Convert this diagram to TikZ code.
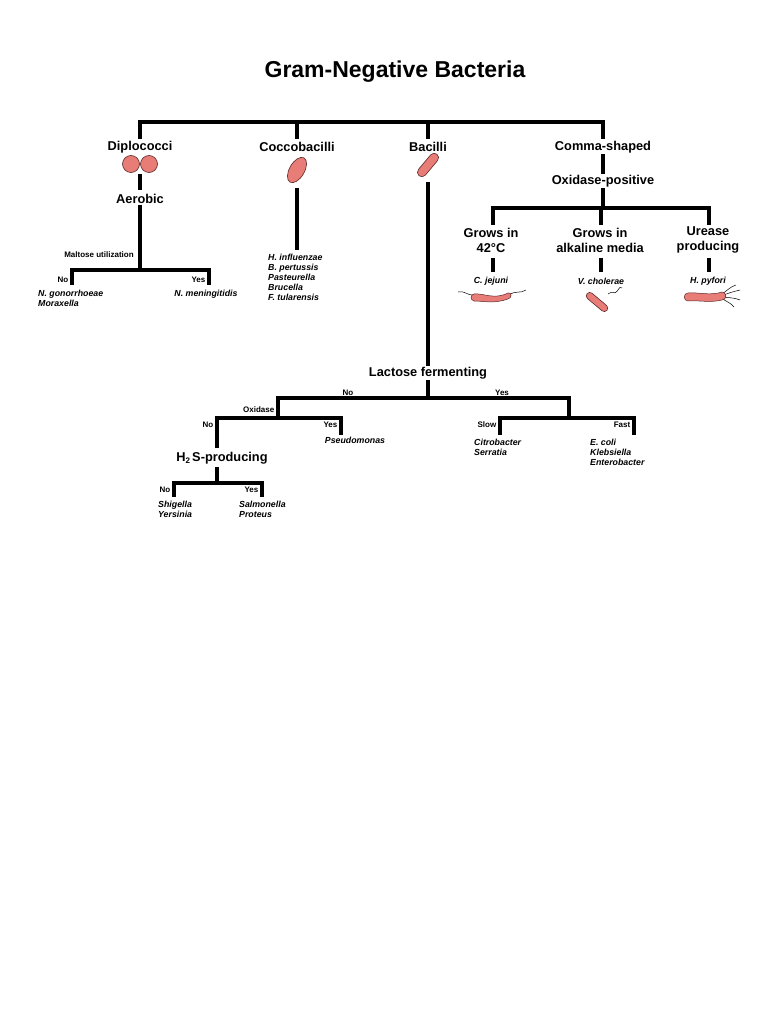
\documentclass[tikz,border=0pt]{standalone}
\usepackage{fontspec}
\setmainfont{Liberation Sans}
\begin{document}
\begin{tikzpicture}[x=1pt,y=-1pt,
  br/.style={line width=3.8pt,line cap=butt},
  lab/.style={font=\fontsize{12.8}{14}\selectfont\bfseries,align=center,inner sep=1pt},
  sm/.style={font=\fontsize{8}{9}\selectfont\bfseries,inner sep=0.5pt},
  sp/.style={font=\fontsize{8.8}{10}\selectfont\bfseries\itshape,align=left,inner sep=0pt},
  cell/.style={fill={rgb,255:red,232;green,124;blue,118},draw={rgb,255:red,90;green,40;blue,40},line width=0.6pt},
  fl/.style={draw=black,line width=0.5pt}]
\useasboundingbox (0,0) rectangle (768,1024);
\node[font=\fontsize{23}{26}\selectfont\bfseries] (title) at (395,72) {Gram-Negative Bacteria};
% top level
\coordinate (t1) at (140,122); \coordinate (t4) at (603,122);
\coordinate (t2) at (297,122); \coordinate (t3) at (428,122);
\node[lab] (dip) at (140,147) {Diplococci};
\node[lab] (coc) at (297,147) {Coccobacilli};
\node[lab] (bac) at (428,147) {Bacilli};
\node[lab] (com) at (603,147) {Comma-shaped};
\draw[br] (140,139) -- (t1) -- (t4) -- (603,139);
\draw[br] (t2) -- (297,139); \draw[br] (t3) -- (428,139);
% diplococci
\draw[cell] (131,164) circle (8.5); \draw[cell] (149,164) circle (8.5);
\node[lab] (aer) at (140,199) {Aerobic};
\draw[br] (140,174) -- (140,190);
\coordinate (dj) at (140,270);
\draw[br] (aer.south) -- (dj);
\node[sm] (malt) at (99,255) {Maltose utilization};
\draw[br] (72,285) -- (72,270) -- (209,270) -- (209,285);
\node[sm,anchor=east] (dno) at (69,280) {No};
\node[sm,anchor=east] (dyes) at (206,280) {Yes};
\node[sp,anchor=north west] (ng) at (38,290) {N. gonorrhoeae\\Moraxella};
\node[sp,anchor=north] (nm) at (206,290) {N. meningitidis};
% coccobacilli
\draw[cell,rotate around={60:(297,170)}] (297,170) ellipse (14 and 7.5);
\draw[br] (297,188) -- (297,250);
\node[sp,anchor=north west] (cl) at (268,254) {H. influenzae\\B. pertussis\\Pasteurella\\Brucella\\F. tularensis};
% bacilli
\draw[cell,rounded corners=4.5pt,rotate around={50:(428,165)}] (414,160.5) rectangle (442,169.5);
\node[lab] (lac) at (428,373) {Lactose fermenting};
\draw[br] (428,182) -- (lac.north);
\coordinate (lj) at (428,398);
\draw[br] (lac.south) -- (lj);
\draw[br] (278,418) -- (278,398) -- (569,398) -- (569,418);
\node[sm] (lno) at (348,393) {No};
\node[sm] (lyes) at (502,393) {Yes};
\node[sm,anchor=east] (ox) at (275,410) {Oxidase};
\node[lab] (h2s) at (222,458) {H\raisebox{-0.35ex}{\fontsize{8}{9}\selectfont 2}\,S-producing};
\draw[br] (217,448) -- (217,418) -- (341,418) -- (341,435);
\node[sm,anchor=east] (ono) at (214,425) {No};
\node[sm,anchor=east] (oyes) at (338,425) {Yes};
\node[sp,anchor=north] (pse) at (355,437) {Pseudomonas};
\draw[br] (217,467) -- (217,483);
\draw[br] (174,497) -- (174,483) -- (262,483) -- (262,497);
\node[sm,anchor=east] (hno) at (171,490) {No};
\node[sm,anchor=east] (hyes) at (259,490) {Yes};
\node[sp,anchor=north west] (shi) at (158,501) {Shigella\\Yersinia};
\node[sp,anchor=north west] (sal) at (239,501) {Salmonella\\Proteus};
\draw[br] (500,435) -- (500,418) -- (634,418) -- (634,435);
\node[sm,anchor=east] (slow) at (497,425) {Slow};
\node[sm,anchor=east] (fast) at (631,425) {Fast};
\node[sp,anchor=north west] (cit) at (474,439) {Citrobacter\\Serratia};
\node[sp,anchor=north west] (eco) at (590,439) {E. coli\\Klebsiella\\Enterobacter};
% comma-shaped
\node[lab] (oxp) at (603,181) {Oxidase-positive};
\draw[br] (com.south) -- (oxp.north);
\draw[br] (oxp.south) -- (603,208);
\draw[br] (493,225) -- (493,208) -- (709,208) -- (709,225);
\draw[br] (601,208) -- (601,225);
\node[lab,font=\fontsize{12.8}{15}\selectfont\bfseries] (g42) at (491,240) {Grows in\\42°C};
\node[lab,font=\fontsize{12.8}{15}\selectfont\bfseries] (alk) at (600,240) {Grows in\\alkaline media};
\node[lab,font=\fontsize{12.8}{15}\selectfont\bfseries] (ure) at (708,240) {Urease\\producing};
\draw[br] (493,258) -- (493,272); \draw[br] (601,258) -- (601,272); \draw[br] (709,258) -- (709,272);
\node[sp] (cj) at (491,281) {C. jejuni};
\node[sp] (vc) at (601,281) {V. cholerae};
\node[sp] (hp) at (708,281) {H. pyfori};
% C. jejuni
\draw[fl] (458,292) .. controls (464,290) and (468,296) .. (474,295);
\draw[fl] (509,295) .. controls (516,290) and (520,294) .. (526,290);
\draw[cell,line width=0.5pt] (474,294) .. controls (484,293) and (494,300) .. (508,293)
  .. controls (512,292) and (512,298) .. (508,299) .. controls (494,304) and (484,301) .. (474,301)
  .. controls (470,300) and (470,295) .. (474,294) -- cycle;
% V. cholerae
\draw[fl] (608,294) .. controls (612,290) and (614,296) .. (618,290) .. controls (620,287) .. (622,288);
\draw[cell,rounded corners=3.5pt,rotate around={-40:(597,302)}] (584,298.5) rectangle (610,305.5);
% H. pylori
\draw[fl] (722,294) .. controls (728,290) and (730,287) .. (736,285);
\draw[fl] (722,296) .. controls (728,293) and (732,292) .. (740,290);
\draw[fl] (722,297) .. controls (728,298) and (732,297) .. (740,300);
\draw[fl] (722,298) .. controls (726,302) and (730,302) .. (734,307);
\draw[cell,line width=0.5pt] (688,293) .. controls (698,292) and (710,296) .. (722,292)
  .. controls (727,292) and (727,300) .. (722,300) .. controls (710,303) and (698,300) .. (688,301)
  .. controls (683,301) and (683,293) .. (688,293) -- cycle;
\end{tikzpicture}
\end{document}
